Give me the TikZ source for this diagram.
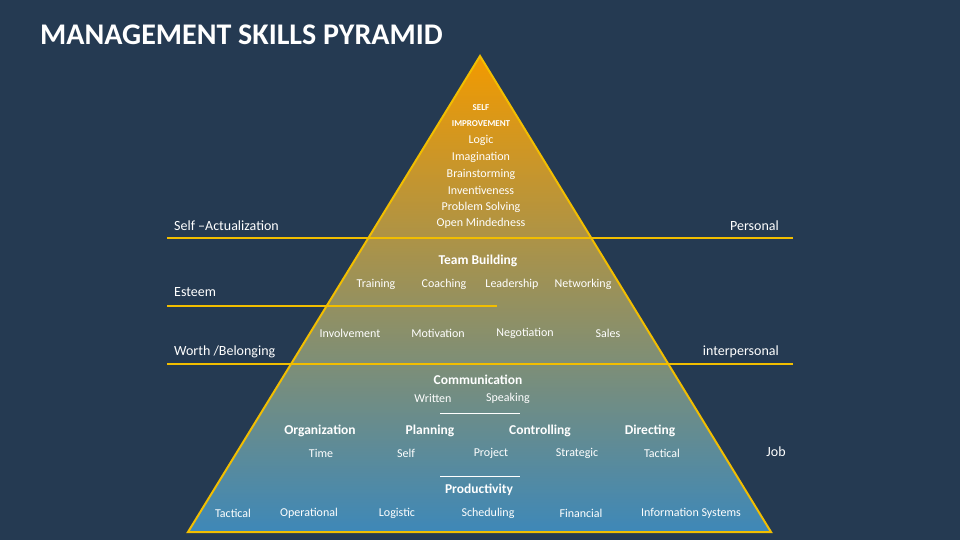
\documentclass[tikz,border=0pt]{standalone}
\usepackage{fontspec}
\setmainfont{Carlito}
\begin{document}
\begin{tikzpicture}[x=1pt,y=-1pt,
  txt/.style={text=white,font=\fontsize{12}{14}\selectfont,inner sep=0pt},
  hd/.style={text=white,font=\fontsize{13.5}{15}\selectfont\bfseries,inner sep=0pt},
  side/.style={text=white,font=\fontsize{14}{16}\selectfont,inner sep=0pt},
  gold/.style={draw=goldc,line width=2pt}]
\definecolor{bg}{HTML}{253A52}
\definecolor{goldc}{HTML}{F2BE00}
\definecolor{topc}{HTML}{F29A00}
\definecolor{midc}{HTML}{A8B828}
\definecolor{botc}{HTML}{3E88B8}
\fill[bg] (0,0) rectangle (960,540);
\useasboundingbox (0,0) rectangle (960,540);
\coordinate (A) at (480,56);
\coordinate (L) at (188,532);
\coordinate (R) at (771,532);
\begin{scope}
\clip (A) -- (L) -- (R) -- cycle;
\shade[top color=topc, middle color=midc, bottom color=botc] (180,56) rectangle (780,532);
\end{scope}
\coordinate (l1a) at (167,238); \coordinate (l1b) at (793,238);
\coordinate (l2a) at (167,306); \coordinate (l2b) at (497,306);
\coordinate (l3a) at (167,364); \coordinate (l3b) at (793,364);
\draw[gold] (l1a) -- (l1b);
\draw[gold] (l2a) -- (l2b);
\draw[gold] (l3a) -- (l3b);
\draw[gold,line join=miter] (A) -- (L) -- (R) -- cycle;
\coordinate (w1a) at (440,413); \coordinate (w1b) at (520,413);
\coordinate (w2a) at (440,476); \coordinate (w2b) at (520,476);
\draw[white,line width=1pt] (w1a) -- (w1b);
\draw[white,line width=1pt] (w2a) -- (w2b);
\node[anchor=west,text=white,font=\fontsize{30}{32}\selectfont\bfseries,inner sep=0pt] (title) at (40,35) {MANAGEMENT SKILLS PYRAMID};
\node[hd,font=\fontsize{9}{10}\selectfont\bfseries] (s1) at (481,108) {SELF};
\node[hd,font=\fontsize{9}{10}\selectfont\bfseries] (s2) at (481,124) {IMPROVEMENT};
\node[txt] (t1) at (481,140) {Logic};
\node[txt] (t2) at (481,157) {Imagination};
\node[txt] (t3) at (481,174) {Brainstorming};
\node[txt] (t4) at (481,190) {Inventiveness};
\node[txt] (t5) at (481,207) {Problem Solving};
\node[txt] (t6) at (481,223) {Open Mindedness};
\node[side,anchor=west] (sa) at (174,226) {Self –Actualization};
\node[side,anchor=east] (pe) at (779,226) {Personal};
\node[side,anchor=west] (es) at (174,292) {Esteem};
\node[side,anchor=west] (wb) at (174,352) {Worth /Belonging};
\node[side,anchor=east] (ip) at (779,352) {interpersonal};
\node[side] (job) at (776,452) {Job};
\node[hd] (tb) at (478,261) {Team Building};
\node[txt] (a1) at (376,284) {Training};
\node[txt] (a2) at (444,284) {Coaching};
\node[txt] (a3) at (512,284) {Leadership};
\node[txt] (a4) at (583,284) {Networking};
\node[txt] (b1) at (350,333) {Involvement};
\node[txt] (b2) at (438,333) {Motivation};
\node[txt] (b3) at (525,333) {Negotiation};
\node[txt] (b4) at (608,333) {Sales};
\node[hd] (co) at (478,380) {Communication};
\node[txt] (c1) at (433,398) {Written};
\node[txt] (c2) at (508,398) {Speaking};
\node[hd] (d1) at (320,431) {Organization};
\node[hd] (d2) at (430,431) {Planning};
\node[hd] (d3) at (540,431) {Controlling};
\node[hd] (d4) at (650,431) {Directing};
\node[txt] (e1) at (321,453) {Time};
\node[txt] (e2) at (406,453) {Self};
\node[txt] (e3) at (491,453) {Project};
\node[txt] (e4) at (577,453) {Strategic};
\node[txt] (e5) at (662,453) {Tactical};
\node[hd] (pr) at (479,490) {Productivity};
\node[txt] (f1) at (233,513) {Tactical};
\node[txt] (f2) at (309,513) {Operational};
\node[txt] (f3) at (397,513) {Logistic};
\node[txt] (f4) at (488,513) {Scheduling};
\node[txt] (f5) at (581,513) {Financial};
\node[txt] (f6) at (691,513) {Information Systems};
\end{tikzpicture}
\end{document}
